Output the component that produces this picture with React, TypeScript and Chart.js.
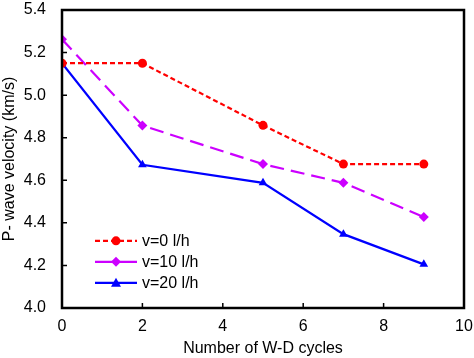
import React, { useEffect, useRef } from "react";
import { Chart, registerables } from "chart.js";
Chart.register(...registerables);

const cycles = [0, 2, 5, 7, 9];
const v0 = [5.15, 5.15, 4.858, 4.676, 4.676];
const v10 = [5.262, 4.857, 4.676, 4.588, 4.427];
const v20 = [5.15, 4.673, 4.588, 4.347, 4.205];
const seriesLabels = ["v=0 l/h", "v=10 l/h", "v=20 l/h"];
const xTicks = [0, 2, 4, 6, 8, 10];
const yTicks = [4.0, 4.2, 4.4, 4.6, 4.8, 5.0, 5.2, 5.4];

const FONT = "'Liberation Sans', Arial, sans-serif";

const frame = {
  id: "frame",
  afterDraw(chart: any) {
    const { ctx, chartArea: a, scales } = chart;
    ctx.save();
    ctx.strokeStyle = "#000";
    ctx.lineWidth = 2.5;
    ctx.strokeRect(a.left, a.top, a.right - a.left, a.bottom - a.top);
    ctx.lineWidth = 1.5;
    ctx.beginPath();
    xTicks.forEach((t) => {
      const x = scales.x.getPixelForValue(t);
      ctx.moveTo(x, a.bottom);
      ctx.lineTo(x, a.bottom - 5);
    });
    yTicks.forEach((t) => {
      const y = scales.y.getPixelForValue(t);
      ctx.moveTo(a.left, y);
      ctx.lineTo(a.left + 5, y);
    });
    ctx.stroke();
    // legend
    const ds = chart.data.datasets;
    const x0 = a.left + 33;
    const x1 = a.left + 75;
    const y0 = scales.y.getPixelForValue(4.4) + 18;
    ds.forEach((d: any, i: number) => {
      const y = y0 + i * 21;
      ctx.strokeStyle = d.borderColor;
      ctx.lineWidth = 2.2;
      ctx.setLineDash(i === 0 ? [5, 3] : []);
      ctx.beginPath();
      ctx.moveTo(x0, y);
      ctx.lineTo(x1, y);
      ctx.stroke();
      ctx.setLineDash([]);
      ctx.fillStyle = d.backgroundColor;
      ctx.beginPath();
      const mx = (x0 + x1) / 2;
      if (i === 0) {
        ctx.arc(mx, y, 4.5, 0, Math.PI * 2);
      } else if (i === 1) {
        ctx.moveTo(mx, y - 5);
        ctx.lineTo(mx + 5, y);
        ctx.lineTo(mx, y + 5);
        ctx.lineTo(mx - 5, y);
        ctx.closePath();
      } else {
        ctx.moveTo(mx, y - 5);
        ctx.lineTo(mx + 5, y + 4);
        ctx.lineTo(mx - 5, y + 4);
        ctx.closePath();
      }
      ctx.fill();
      ctx.fillStyle = "#000";
      ctx.font = `16px ${FONT}`;
      ctx.textBaseline = "middle";
      ctx.textAlign = "left";
      ctx.fillText(d.label, x1 + 5, y + 1);
    });
    ctx.restore();
  },
};

export default function App() {
  const ref = useRef<HTMLCanvasElement>(null);
  useEffect(() => {
    document.body.style.margin = "0";
    const mk = (ys: number[]) => cycles.map((x, i) => ({ x, y: ys[i] }));
    const chart = new Chart(ref.current!, {
      type: "line",
      data: {
        datasets: [
          {
            label: seriesLabels[0],
            data: mk(v0),
            borderColor: "#FF0000",
            backgroundColor: "#FF0000",
            borderWidth: 2.2,
            borderDash: [5, 3],
            pointStyle: "circle",
            pointRadius: 4.5,
            pointBorderWidth: 0,
          },
          {
            label: seriesLabels[1],
            data: mk(v10),
            borderColor: "#CC00FF",
            backgroundColor: "#CC00FF",
            borderWidth: 2.2,
            borderDash: [14, 7],
            pointStyle: "rectRot",
            pointRadius: 5,
            pointBorderWidth: 0,
          },
          {
            label: seriesLabels[2],
            data: mk(v20),
            borderColor: "#0000FF",
            backgroundColor: "#0000FF",
            borderWidth: 2.2,
            pointStyle: "triangle",
            pointRadius: 5,
            pointBorderWidth: 0,
          },
        ],
      },
      options: {
        animation: false,
        responsive: false,
        layout: { padding: { top: 10, right: 10, left: 0, bottom: 0 } },
        plugins: { legend: { display: false }, tooltip: { enabled: false } },
        scales: {
          x: {
            type: "linear",
            min: 0,
            max: 10,
            afterFit: (s: any) => {
              s.height = 50;
              s.paddingLeft = 0;
              s.paddingRight = 0;
            },
            afterBuildTicks: (s: any) => {
              s.ticks = xTicks.map((v) => ({ value: v }));
            },
            grid: { display: false, drawTicks: false },
            border: { display: false },
            ticks: {
              color: "#000",
              font: { family: FONT, size: 16 },
              padding: 9,
            },
            title: {
              display: true,
              text: "Number of W-D cycles",
              color: "#000",
              font: { family: FONT, size: 16 },
              padding: { top: 1, bottom: 0 },
            },
          },
          y: {
            type: "linear",
            min: 4.0,
            max: 5.4,
            afterFit: (s: any) => {
              s.width = 62;
              s.paddingTop = 0;
              s.paddingBottom = 0;
            },
            afterBuildTicks: (s: any) => {
              s.ticks = yTicks.map((v) => ({ value: v }));
            },
            grid: { display: false, drawTicks: false },
            border: { display: false },
            ticks: {
              color: "#000",
              font: { family: FONT, size: 16 },
              padding: 16,
              callback: (v: any) => Number(v).toFixed(1),
            },
            title: {
              display: true,
              text: "P- wave velocity (km/s)",
              color: "#000",
              font: { family: FONT, size: 16 },
              padding: { top: 0, bottom: 1 },
            },
          },
        },
      },
      plugins: [frame],
    });
    return () => chart.destroy();
  }, []);
  return (
    <div style={{ position: "absolute", left: 0, top: 0, width: 474, height: 358, background: "#fff" }}>
      <canvas ref={ref} width={474} height={358} />
    </div>
  );
}
